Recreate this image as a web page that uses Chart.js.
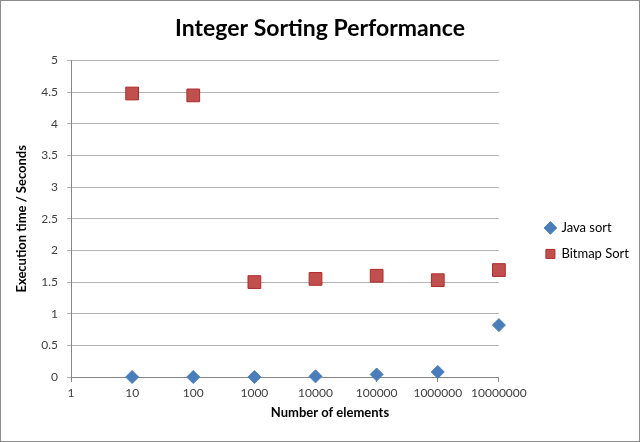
<!DOCTYPE html>
<html>
<head>
<meta charset="utf-8">
<script src="https://cdn.jsdelivr.net/npm/chart.js@4/dist/chart.umd.min.js"></script>
<style>
  html, body { margin: 0; padding: 0; background: #fff; }
  #wrap { width: 638px; height: 440px; border: 1px solid #8c8c8c; }
</style>
</head>
<body>
<div id="wrap"><canvas id="myScatterChart" width="638" height="440"></canvas></div>
<script>
"use strict";

// number of elements sorted
const sizes = [10, 100, 1000, 10000, 100000, 1000000, 10000000];
// seconds
const javaSort = [0, 0, 0, 0.01, 0.04, 0.08, 0.82];
const bitmapSort = [4.48, 4.45, 1.50, 1.55, 1.60, 1.53, 1.69];
// x axis ticks
const xTicks = [1, 10, 100, 1000, 10000, 100000, 1000000, 10000000];

const FONT = 'Lato, "DejaVu Sans", sans-serif';
const gridColor = '#b4b4b4';
const axisColor = '#868686';

// push the legend away from the plot like excel does, keep title centred on the whole chart
const legendShift = {
  id: 'legendShift',
  afterLayout(chart) {
    chart.legend.left += 34;
    chart.legend.right += 34;
    chart.titleBlock.left = 0;
    chart.titleBlock.right = chart.width;
  }
};

const scatterCtx = document.getElementById('myScatterChart').getContext('2d');

let myScatterChart = new Chart(scatterCtx, {
  type: 'scatter',
  data: {
    datasets: [{
      label: 'Java sort',
      data: sizes.map((s, i) => ({ x: s, y: javaSort[i] })),
      pointStyle: 'rectRot',
      pointRadius: 6.5,
      backgroundColor: '#4a7ebb',
      borderColor: '#4a7ebb',
      borderWidth: 1,
      clip: false
    }, {
      label: 'Bitmap Sort',
      data: sizes.map((s, i) => ({ x: s, y: bitmapSort[i] })),
      pointStyle: 'rect',
      pointRadius: 9,
      backgroundColor: '#c0504d',
      borderColor: '#b02a27',
      borderWidth: 1,
      clip: false
    }]
  },
  options: {
    responsive: false,
    animation: false,
    layout: { padding: { left: 7, right: 34, top: 8, bottom: 16 } },
    plugins: {
      title: {
        display: true,
        text: 'Integer Sorting Performance',
        color: '#000',
        font: { family: FONT, size: 23, weight: 'bold' },
        padding: { top: 6, bottom: 18 }
      },
      legend: {
        position: 'right',
        align: 'start',
        title: { display: true, text: ' ', padding: { top: 185, bottom: 0 } },
        labels: {
          usePointStyle: true,
          boxWidth: 9,
          boxHeight: 9,
          padding: 13,
          color: '#000',
          font: { family: FONT, size: 13 }
        }
      },
      tooltip: { enabled: false }
    },
    scales: {
      x: {
        type: 'logarithmic',
        min: 1,
        max: 10000000,
        afterBuildTicks: axis => { axis.ticks = xTicks.map(v => ({ value: v })); },
        // axis title sits a bit right of centre in the original
        afterUpdate: axis => {
          const draw = Object.getPrototypeOf(axis).drawTitle;
          axis.drawTitle = function () {
            this.ctx.save();
            this.ctx.translate(45, 0);
            draw.call(this);
            this.ctx.restore();
          };
        },
        ticks: {
          callback: v => String(v),
          color: '#404040',
          font: { family: FONT, size: 12 },
          maxRotation: 0,
          autoSkip: false,
          padding: 4
        },
        grid: { drawOnChartArea: false, color: axisColor, tickLength: 5 },
        border: { color: axisColor },
        title: {
          display: true,
          text: 'Number of elements',
          color: '#000',
          font: { family: FONT, size: 13, weight: 'bold' },
          padding: { top: 1 }
        }
      },
      y: {
        min: 0,
        max: 5,
        afterFit: axis => { axis.width = 63; },
        ticks: {
          stepSize: 0.5,
          callback: v => String(Number(v)),
          color: '#404040',
          font: { family: FONT, size: 12 },
          padding: 9
        },
        grid: { color: gridColor, tickLength: 4 },
        border: { color: axisColor },
        title: {
          display: true,
          text: 'Execution time / Seconds',
          color: '#000',
          font: { family: FONT, size: 13, weight: 'bold' },
          padding: { top: 6, bottom: 2 }
        }
      }
    }
  },
  plugins: [legendShift]
});
</script>
</body>
</html>
